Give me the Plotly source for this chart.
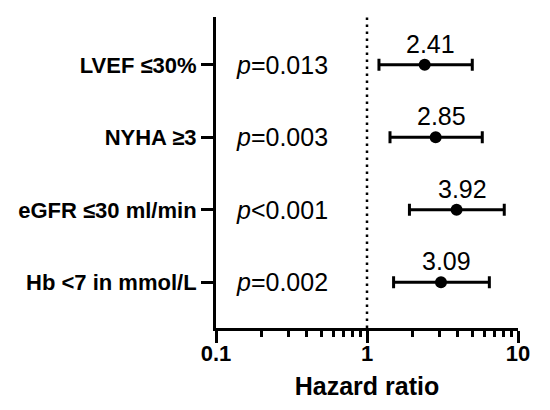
import math
import plotly.graph_objects as go

factors = ["LVEF ≤30%", "NYHA ≥3", "eGFR ≤30 ml/min", "Hb <7 in mmol/L"]
hr = [2.41, 2.85, 3.92, 3.09]
ci_low = [1.20, 1.42, 1.91, 1.50]
ci_high = [4.98, 5.80, 8.11, 6.46]
p_labels = ["=0.013", "=0.003", "&lt;0.001", "=0.002"]
x_ticks = [0.1, 1, 10]

font = "Arial, Liberation Sans, sans-serif"

fig = go.Figure()

fig.add_trace(go.Scatter(
    x=hr,
    y=factors,
    mode="markers",
    marker=dict(color="black", size=12),
    error_x=dict(
        type="data",
        symmetric=False,
        array=[h - m for h, m in zip(ci_high, hr)],
        arrayminus=[m - l for m, l in zip(hr, ci_low)],
        color="black",
        thickness=3,
        width=6,
    ),
    showlegend=False,
))

# HR values above the points
for f, v in zip(factors, hr):
    fig.add_annotation(
        x=math.log10(v), y=f, text=f"{v:.2f}",
        showarrow=False, yshift=21, xshift=6,
        font=dict(family=font, size=25, color="black"),
    )

# p values
for f, p in zip(factors, p_labels):
    fig.add_annotation(
        x=0.06, xref="paper", y=f, text="<i>p</i>" + p,
        xanchor="left", showarrow=False,
        font=dict(family=font, size=25, color="black"),
    )

# reference line at HR = 1
fig.add_shape(
    type="line", x0=1, x1=1, xref="x", y0=0, y1=1, yref="paper",
    line=dict(color="black", width=2.5, dash="2.5px,4.5px"),
)

fig.update_xaxes(
    type="log",
    range=[-1, 1],
    tickvals=x_ticks,
    ticktext=[str(t) for t in x_ticks],
    ticks="outside",
    ticklen=12,
    tickwidth=3,
    tickcolor="black",
    ticklabelstandoff=-8,
    showline=True,
    linewidth=3,
    linecolor="black",
    showgrid=False,
    zeroline=False,
    tickfont=dict(family=font, size=22, color="black", weight="bold"),
    title=dict(text="<b>Hazard ratio</b>", font=dict(family=font, size=25, color="black"), standoff=13),
    minor=dict(ticks="outside", ticklen=6, tickwidth=3, tickcolor="black", dtick="D1", showgrid=False),
)

fig.update_yaxes(
    categoryorder="array",
    categoryarray=factors[::-1],
    range=[-0.63, 3.66],
    ticks="outside",
    ticklen=12,
    tickwidth=3,
    tickcolor="black",
    showline=True,
    linewidth=3,
    linecolor="black",
    showgrid=False,
    tickfont=dict(family=font, size=22, color="black", weight="bold"),
)

# page body adds an 8px offset, so the figure is shrunk to compensate
fig.update_layout(
    width=542,
    height=402,
    margin=dict(l=208, r=32, t=9, b=82),
    plot_bgcolor="white",
    paper_bgcolor="white",
)

fig.write_html("out.html")
